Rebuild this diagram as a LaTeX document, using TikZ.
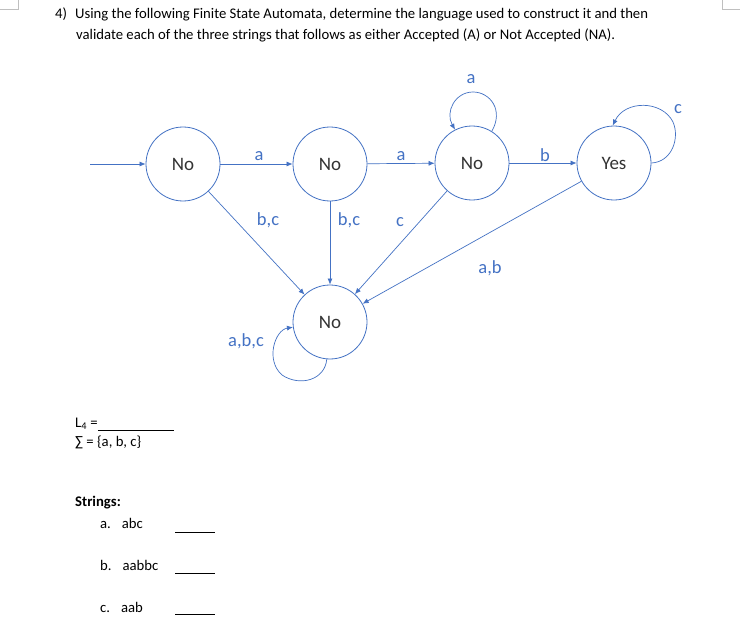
\documentclass[tikz,border=0pt]{standalone}
\usepackage{fontspec}
\setmainfont{Carlito}
\usetikzlibrary{arrows.meta}
\definecolor{bl}{RGB}{68,114,196}
\begin{document}
\begin{tikzpicture}[x=1pt,y=-1pt,
  st/.style={circle,draw=bl,thick,minimum size=74pt,inner sep=0pt,font=\fontsize{19}{21}\selectfont,text=black!80},
  ed/.style={draw=bl,line width=0.7pt,-{Latex[length=6pt,width=5pt]}},
  lb/.style={text=bl,font=\fontsize{18.5}{20}\selectfont},
  tx/.style={anchor=west,font=\fontsize{14.7}{17}\selectfont,inner sep=0pt}]
\useasboundingbox[fill=white] (0,0) rectangle (740,634);
\draw[gray!50] (0,9) -- (18,9) -- (18,0);
\draw[gray!50] (740,9) -- (722,9) -- (722,0);
\node[tx] (t1) at (55,14) {4)\hspace{8pt}Using the following Finite State Automata, determine the language used to construct it and then};
\node[tx] (t2) at (76,35) {validate each of the three strings that follows as either Accepted (A) or Not Accepted (NA).};
\node[st] (s1) at (183,164) {No};
\node[st] (s2) at (330,164) {No};
\node[st] (s3) at (472,163) {No};
\node[st] (s4) at (614,163) {Yes};
\node[st] (s5) at (330,322) {No};
\coordinate (st) at (90,164);
\draw[ed] (st) -- (s1);
\draw[ed] (s1) -- (s2);
\draw[ed] (s2) -- (s3);
\draw[ed] (s3) -- (s4);
\draw[ed] (s1) -- (s5);
\draw[ed] (s2) -- (s5);
\draw[ed] (s3) -- (s5);
\draw[ed] (s4) -- (s5);
\draw[ed] (s3.58) .. controls (504,110) and (490,92) .. (473,92) .. controls (455,92) and (445,112) .. (s3.117);
\draw[ed] (s4.east) .. controls (672,162) and (680,138) .. (673,122) .. controls (662,100) and (625,100) .. (s4.92);
\draw[ed] (s5.265) .. controls (325,380) and (300,387) .. (282,375) .. controls (265,360) and (275,330) .. (s5.188);
\node[lb] (l1) at (259,156) {a};
\node[lb] (l2) at (401,156) {a};
\node[lb] (l3) at (545,155) {b};
\node[lb] (l4) at (268,220) {b,c};
\node[lb] (l5) at (349,220) {b,c};
\node[lb] (l6) at (400,222) {c};
\node[lb] (l7) at (490,268) {a,b};
\node[lb] (l8) at (471,79) {a};
\node[lb] (l9) at (678,109) {c};
\node[lb] (l10) at (246,341) {a,b,c};
\node[tx] (L) at (75,424) {L\textsubscript{4} = };
\draw (L.east) ++(0,6) coordinate (lq) -- ++(76,0);
\node[tx] (sig) at (75,442) {∑ = \{a, b, c\}};
\node[tx,font=\bfseries\fontsize{14.7}{17}\selectfont] (sg) at (75,503) {Strings:};
\node[tx] (sa) at (100,523) {a.\hspace{11pt}abc};
\node[tx] (sb) at (100,565) {b.\hspace{11pt}aabbc};
\node[tx] (sc) at (100,607) {c.\hspace{11pt}aab};
\draw (175,532) -- (215,532);
\draw (175,573) -- (215,573);
\draw (175,614) -- (215,614);
\end{tikzpicture}
\end{document}
